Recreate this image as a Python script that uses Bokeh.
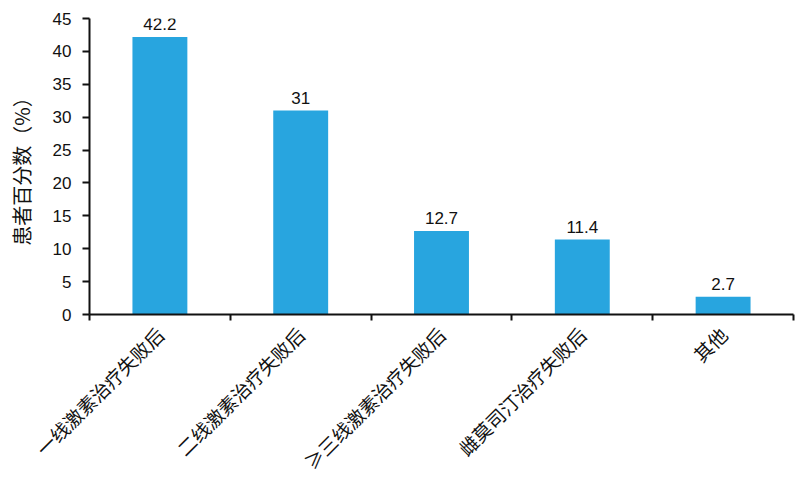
from math import pi
from bokeh.plotting import figure
from bokeh.models import Range1d, FixedTicker, LinearAxis, ColumnDataSource
from bokeh.core.properties import value
from bokeh.embed import file_html
from bokeh.resources import INLINE

categories = ["一线激素治疗失败后", "二线激素治疗失败后", "≥三线激素治疗失败后", "雌莫司汀治疗失败后", "其他"]
percentages = [42.2, 31, 12.7, 11.4, 2.7]
value_labels = ["42.2", "31", "12.7", "11.4", "2.7"]
y_ticks = [0, 5, 10, 15, 20, 25, 30, 35, 40, 45]
y_title = "患者百分数（%）"

n = len(categories)
positions = [i + 0.5 for i in range(n)]
boundaries = list(range(n + 1))

src = ColumnDataSource(dict(x=positions, top=percentages, label=value_labels))

p = figure(width=798, height=487, x_range=Range1d(0, n), y_range=Range1d(0, 45),
           output_backend="svg", toolbar_location=None, x_axis_type=None,
           min_border_left=89, min_border_right=5, min_border_top=18, min_border_bottom=173)
p.outline_line_color = None
p.xgrid.visible = False
p.ygrid.visible = False
p.background_fill_color = "white"
p.border_fill_color = "white"

p.vbar(x="x", top="top", width=0.39, source=src, fill_color="#28A5DF", line_color=None)
p.text(x="x", y="top", text="label", source=src, text_align="center", text_baseline="alphabetic",
       y_offset=-13, text_font=value("Liberation Sans"), text_font_size="17px", text_color="#111111")

# category axis: ticks on the category boundaries, labels centred on categories
xaxis = LinearAxis(ticker=FixedTicker(ticks=positions, minor_ticks=boundaries))
xaxis.major_label_overrides = {pos: cat for pos, cat in zip(positions, categories)}
xaxis.major_tick_out = 0
xaxis.major_tick_in = 0
xaxis.minor_tick_out = 6
xaxis.minor_tick_in = 0
xaxis.minor_tick_line_color = "#111111"
xaxis.minor_tick_line_width = 2
xaxis.axis_line_color = "#111111"
xaxis.axis_line_width = 2
xaxis.major_label_orientation = pi / 4
xaxis.major_label_standoff = 10
xaxis.major_label_text_font = "Noto Sans CJK SC"
xaxis.major_label_text_font_size = "19px"
xaxis.major_label_text_color = "#111111"
p.add_layout(xaxis, "below")

ya = p.yaxis[0]
ya.ticker = FixedTicker(ticks=y_ticks)
ya.major_tick_out = 7
ya.major_tick_in = 0
ya.minor_tick_out = 0
ya.minor_tick_in = 0
ya.major_tick_line_color = "#111111"
ya.major_tick_line_width = 2
ya.axis_line_color = "#111111"
ya.axis_line_width = 2
ya.major_label_standoff = 11
ya.major_label_text_font = "Liberation Sans"
ya.major_label_text_font_size = "17px"
ya.major_label_text_color = "#111111"
ya.axis_label = y_title
ya.axis_label_text_font = "Noto Sans CJK SC"
ya.axis_label_text_font_size = "20px"
ya.axis_label_text_font_style = "normal"
ya.axis_label_text_color = "#111111"
ya.axis_label_standoff = 14

open("out.html", "w").write(file_html(p, INLINE))
